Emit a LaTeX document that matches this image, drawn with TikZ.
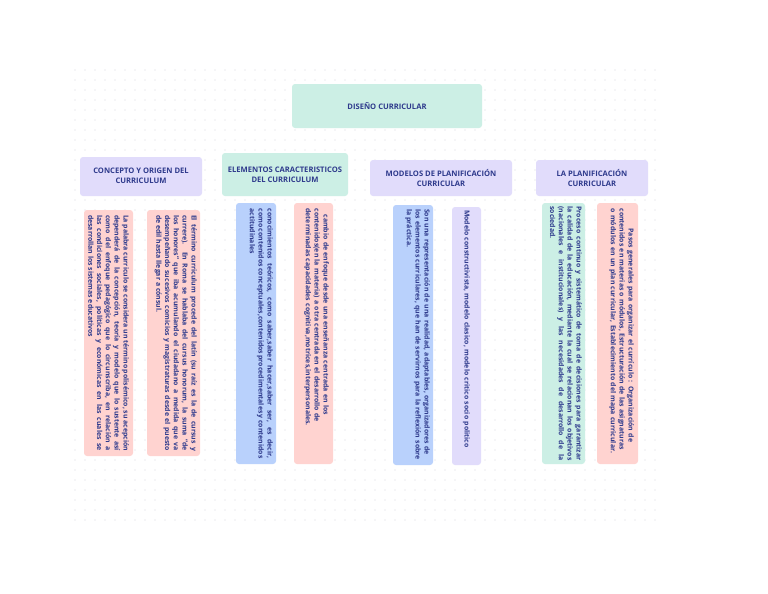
\documentclass[tikz,border=0pt]{standalone}
\usepackage{fontspec}
\setmainfont{Open Sans}
\definecolor{pinkc}{HTML}{FFD3D0}
\definecolor{bluec}{HTML}{B9D1FC}
\definecolor{lavc}{HTML}{E1DCFB}
\definecolor{tealc}{HTML}{CCEFE5}
\definecolor{txt}{HTML}{2E3A8C}
\definecolor{dotc}{HTML}{D8D8DE}
\newcommand{\nohy}{\hyphenpenalty 10000 \exhyphenpenalty 10000 }
\begin{document}
\begin{tikzpicture}[x=1pt,y=-1pt,
  card/.style={rounded corners=3pt,draw=none},
  hdr/.style={rounded corners=3pt,draw=none},
  htxt/.style={text=txt,font=\fontsize{7.6}{9.5}\selectfont\bfseries\nohy,align=center},
  ctxt/.style={text=txt,font=\fontsize{6.9}{8.8}\selectfont\bfseries\nohy,rotate=-90,anchor=north,inner sep=0pt}]
\useasboundingbox (0,0) rectangle (768,594);
\fill[white] (0,0) rectangle (768,594);
\foreach \i in {0,...,58}{\foreach \j in {0,...,45}{\fill[dotc] (75+10*\i,70+10*\j) circle (0.7);}}
% title
\fill[tealc,hdr] (292,84) rectangle (482,128);
\node[htxt] (title) at (387,106) {DISEÑO CURRICULAR};
% headers
\fill[lavc,hdr] (80,157) rectangle (202,196);
\node[htxt] (h1) at (141,176) {CONCEPTO Y ORIGEN DEL\\CURRICULUM};
\fill[tealc,hdr] (222,153) rectangle (348,196);
\node[htxt] (h2) at (285,175) {ELEMENTOS CARACTERISTICOS\\DEL CURRICULUM};
\fill[lavc,hdr] (370,160) rectangle (512,196);
\node[htxt] (h3) at (441,178) {MODELOS DE PLANIFICACIÓN\\CURRICULAR};
\fill[lavc,hdr] (536,160) rectangle (648,196);
\node[htxt] (h4) at (592,178) {LA PLANIFICACIÓN\\CURRICULAR};
% column 1
\fill[pinkc,card] (84,210) rectangle (133,456);
\node[ctxt,text width=236pt,align=justify] (c1a) at (129,333) {La palabra curriculo se considera un término polisémico, su acepción dependerá de la concepción, teoría y modelo que lo sustente así como del enfoque pedagógico que lo circunscriba, en relación a las condiciones sociales, políticas y económicas en las cuales se desarrollan los sistemas educativos};
\fill[pinkc,card] (147,210) rectangle (200,456);
\node[ctxt,text width=236pt,align=justify] (c1b) at (197,333) {El término curriculum procede del latín (su raíz es la de cursus y currere). En Roma se hablaba del cursus honorum, la suma "de los honores" que iba acumulando el ciudadano a medida que va desempeñando sucesivos comicios y magistraturas desde el puesto de edil hasta llegar a cónsul.};
% column 2
\fill[bluec,card] (236,203) rectangle (276,464);
\node[ctxt,text width=250pt,align=justify] (c2a) at (273,333.5) {conocimientos teóricos, como saber,saber hacer,saber ser, es decir, como contenidos conceptuales,contenidos procedimentales y contenidos actitudinales};
\fill[pinkc,card] (294,203) rectangle (333,464);
\node[ctxt,text width=250pt,align=left] (c2b) at (329,333.5) {\hspace*{6pt}cambio de enfoque desde una enseñanza centrada en los contenidos(en la materia) a otra centrada en el desarrollo de determinadas capacidades cognitiva,motrices,interpersonales.};
% column 3
\fill[bluec,card] (393,205) rectangle (433,465);
\node[ctxt,text width=252pt,align=left] (c3a) at (430,335) {Son una representación de una realidad, adaptables, organizadores de los elementos curriculares, que han de servirnos para la reflexión sobre la práctica.};
\fill[lavc,card] (452,207) rectangle (481,465);
\node[ctxt,text width=252pt,align=left] (c3b) at (470,336) {Modelo constructivista, modelo clasico, modelo critico socio politico};
% column 4
\fill[tealc,card] (542,203) rectangle (585,464);
\node[ctxt,text width=254pt,align=justify] (c4a) at (582,333.5) {Proceso continuo y sistemático de toma de decisiones para garantizar la calidad de la educación, mediante la cual se relacionan los objetivos (nacionales e institucionales) y las necesidades de desarrollo de la sociedad.};
\fill[pinkc,card] (597,203) rectangle (638,464);
\node[ctxt,text width=250pt,align=left] (c4b) at (634,333.5) {\hspace*{20pt}Pasos generales para organizar el currículo : Organización de contenidos en materias o módulos, Estructuración de las asignaturas o módulos en un plan curricular, Establecimiento del mapa curricular.};
\end{tikzpicture}
\end{document}
